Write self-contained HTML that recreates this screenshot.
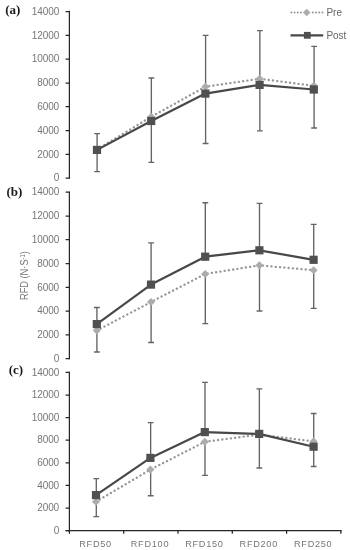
<!DOCTYPE html><html><head><meta charset="utf-8"><title>RFD chart</title>
<style>html,body{margin:0;padding:0;background:#fff}svg{display:block}.t{font-family:"Liberation Sans",sans-serif;font-size:10px;fill:#767676;letter-spacing:-.1px}.c{font-family:"Liberation Sans",sans-serif;font-size:9.2px;fill:#767676;letter-spacing:.7px}.l{font-family:"Liberation Sans",sans-serif;font-size:10px;fill:#666}.p{font-family:"Liberation Serif",serif;font-weight:bold;font-size:13px;letter-spacing:-.1px;fill:#1a1a1a}</style></head><body>
<svg width="350" height="550" viewBox="0 0 350 550">
<rect width="350" height="550" fill="#fff"/>
<g stroke="#262626" stroke-width="1.25" fill="none">
<path d="M69.4 10.9V178.8"/>
<path d="M65.6 178.1H69.4M65.6 154.3H69.4M65.6 130.5H69.4M65.6 106.7H69.4M65.6 83.0H69.4M65.6 59.2H69.4M65.6 35.4H69.4M65.6 11.6H69.4"/>
</g>
<text class="t" x="59.1" y="181.3" text-anchor="end">0</text>
<text class="t" x="59.1" y="157.6" text-anchor="end">2000</text>
<text class="t" x="59.1" y="133.8" text-anchor="end">4000</text>
<text class="t" x="59.1" y="110.0" text-anchor="end">6000</text>
<text class="t" x="59.1" y="86.2" text-anchor="end">8000</text>
<text class="t" x="59.1" y="62.4" text-anchor="end">10000</text>
<text class="t" x="59.1" y="38.6" text-anchor="end">12000</text>
<text class="t" x="59.1" y="14.8" text-anchor="end">14000</text>
<polyline points="97.00,149.50 151.20,116.80 205.40,86.70 259.60,78.80 313.80,85.80" fill="none" stroke="#989696" stroke-width="2.35" stroke-linecap="round" stroke-dasharray="0.1 4.2"/>
<polyline points="97.00,149.90 151.20,121.00 205.40,93.60 259.60,84.90 313.80,89.50" fill="none" stroke="#484848" stroke-width="2.2" stroke-linejoin="round"/>
<path d="M97.10 133.60V149.90M97.10 149.50V171.65M94.20 133.60h5.8M94.20 171.65h5.8M151.35 78.00V121.00M151.35 116.80V162.30M148.45 78.00h5.8M148.45 162.30h5.8M205.60 35.30V93.60M205.60 86.70V143.50M202.70 35.30h5.8M202.70 143.50h5.8M259.85 30.60V84.90M259.85 78.80V130.80M256.95 30.60h5.8M256.95 130.80h5.8M314.10 46.40V89.50M314.10 85.80V128.00M311.20 46.40h5.8M311.20 128.00h5.8" fill="none" stroke="#646464" stroke-width="1.35"/>
<path d="M97.00 145.45l4.05 4.05l-4.05 4.05l-4.05 -4.05z" fill="#aeabab"/>
<path d="M151.20 112.75l4.05 4.05l-4.05 4.05l-4.05 -4.05z" fill="#aeabab"/>
<path d="M205.40 82.65l4.05 4.05l-4.05 4.05l-4.05 -4.05z" fill="#aeabab"/>
<path d="M259.60 74.75l4.05 4.05l-4.05 4.05l-4.05 -4.05z" fill="#aeabab"/>
<path d="M313.80 81.75l4.05 4.05l-4.05 4.05l-4.05 -4.05z" fill="#aeabab"/>
<rect x="92.90" y="145.80" width="8.2" height="8.2" fill="#505050"/>
<rect x="147.10" y="116.90" width="8.2" height="8.2" fill="#505050"/>
<rect x="201.30" y="89.50" width="8.2" height="8.2" fill="#505050"/>
<rect x="255.50" y="80.80" width="8.2" height="8.2" fill="#505050"/>
<rect x="309.70" y="85.40" width="8.2" height="8.2" fill="#505050"/>
<text class="p" x="5.3" y="14.0">(a)</text>
<g stroke="#262626" stroke-width="1.25" fill="none">
<path d="M69.4 191.5V359.3"/>
<path d="M65.6 358.6H69.4M65.6 334.8H69.4M65.6 311.1H69.4M65.6 287.3H69.4M65.6 263.5H69.4M65.6 239.7H69.4M65.6 216.0H69.4M65.6 192.2H69.4"/>
</g>
<text class="t" x="59.1" y="361.9" text-anchor="end">0</text>
<text class="t" x="59.1" y="338.1" text-anchor="end">2000</text>
<text class="t" x="59.1" y="314.3" text-anchor="end">4000</text>
<text class="t" x="59.1" y="290.5" text-anchor="end">6000</text>
<text class="t" x="59.1" y="266.8" text-anchor="end">8000</text>
<text class="t" x="59.1" y="243.0" text-anchor="end">10000</text>
<text class="t" x="59.1" y="219.2" text-anchor="end">12000</text>
<text class="t" x="59.1" y="195.4" text-anchor="end">14000</text>
<polyline points="96.80,330.50 151.00,302.00 205.20,274.00 259.40,265.35 313.60,270.20" fill="none" stroke="#989696" stroke-width="2.35" stroke-linecap="round" stroke-dasharray="0.1 4.2"/>
<polyline points="96.80,324.10 151.00,284.60 205.20,256.70 259.40,250.30 313.60,259.80" fill="none" stroke="#484848" stroke-width="2.2" stroke-linejoin="round"/>
<path d="M96.90 307.50V324.10M96.90 330.50V352.00M94.00 307.50h5.8M94.00 352.00h5.8M151.10 242.80V284.60M151.10 302.00V342.45M148.20 242.80h5.8M148.20 342.45h5.8M205.30 202.70V256.70M205.30 274.00V323.60M202.40 202.70h5.8M202.40 323.60h5.8M259.50 203.30V250.30M259.50 265.35V311.00M256.60 203.30h5.8M256.60 311.00h5.8M313.70 224.30V259.80M313.70 270.20V308.30M310.80 224.30h5.8M310.80 308.30h5.8" fill="none" stroke="#646464" stroke-width="1.35"/>
<path d="M96.80 326.45l4.05 4.05l-4.05 4.05l-4.05 -4.05z" fill="#aeabab"/>
<path d="M151.00 297.95l4.05 4.05l-4.05 4.05l-4.05 -4.05z" fill="#aeabab"/>
<path d="M205.20 269.95l4.05 4.05l-4.05 4.05l-4.05 -4.05z" fill="#aeabab"/>
<path d="M259.40 261.30l4.05 4.05l-4.05 4.05l-4.05 -4.05z" fill="#aeabab"/>
<path d="M313.60 266.15l4.05 4.05l-4.05 4.05l-4.05 -4.05z" fill="#aeabab"/>
<rect x="92.70" y="320.00" width="8.2" height="8.2" fill="#505050"/>
<rect x="146.90" y="280.50" width="8.2" height="8.2" fill="#505050"/>
<rect x="201.10" y="252.60" width="8.2" height="8.2" fill="#505050"/>
<rect x="255.30" y="246.20" width="8.2" height="8.2" fill="#505050"/>
<rect x="309.50" y="255.70" width="8.2" height="8.2" fill="#505050"/>
<text class="p" x="6.6" y="195.7">(b)</text>
<g stroke="#262626" stroke-width="1.25" fill="none">
<path d="M69.4 371.7V531.3"/>
<path d="M65.6 530.6H69.4M65.6 508.0H69.4M65.6 485.4H69.4M65.6 462.8H69.4M65.6 440.2H69.4M65.6 417.6H69.4M65.6 395.0H69.4M65.6 372.4H69.4"/>
<path d="M65.6 530.6H341.4"/>
<path d="M69.4 530.0V533.8M123.7 530.0V533.8M178.0 530.0V533.8M232.3 530.0V533.8M286.6 530.0V533.8M340.9 530.0V533.8"/>
</g>
<text class="t" x="59.1" y="533.9" text-anchor="end">0</text>
<text class="t" x="59.1" y="511.2" text-anchor="end">2000</text>
<text class="t" x="59.1" y="488.7" text-anchor="end">4000</text>
<text class="t" x="59.1" y="466.1" text-anchor="end">6000</text>
<text class="t" x="59.1" y="443.4" text-anchor="end">8000</text>
<text class="t" x="59.1" y="420.9" text-anchor="end">10000</text>
<text class="t" x="59.1" y="398.2" text-anchor="end">12000</text>
<text class="t" x="59.1" y="375.6" text-anchor="end">14000</text>
<polyline points="96.00,501.70 150.40,469.60 204.80,441.80 259.20,434.60 313.60,441.40" fill="none" stroke="#989696" stroke-width="2.35" stroke-linecap="round" stroke-dasharray="0.1 4.2"/>
<polyline points="96.00,495.10 150.40,457.90 204.80,432.10 259.20,433.90 313.60,446.70" fill="none" stroke="#484848" stroke-width="2.2" stroke-linejoin="round"/>
<path d="M96.30 478.60V495.10M96.30 501.70V516.65M93.40 478.60h5.8M93.40 516.65h5.8M150.65 422.60V457.90M150.65 469.60V495.70M147.75 422.60h5.8M147.75 495.70h5.8M205.00 382.30V432.10M205.00 441.80V475.40M202.10 382.30h5.8M202.10 475.40h5.8M259.35 388.90V433.90M259.35 434.60V468.00M256.45 388.90h5.8M256.45 468.00h5.8M313.70 413.50V446.70M313.70 441.40V466.50M310.80 413.50h5.8M310.80 466.50h5.8" fill="none" stroke="#646464" stroke-width="1.35"/>
<path d="M96.00 497.65l4.05 4.05l-4.05 4.05l-4.05 -4.05z" fill="#aeabab"/>
<path d="M150.40 465.55l4.05 4.05l-4.05 4.05l-4.05 -4.05z" fill="#aeabab"/>
<path d="M204.80 437.75l4.05 4.05l-4.05 4.05l-4.05 -4.05z" fill="#aeabab"/>
<path d="M259.20 430.55l4.05 4.05l-4.05 4.05l-4.05 -4.05z" fill="#aeabab"/>
<path d="M313.60 437.35l4.05 4.05l-4.05 4.05l-4.05 -4.05z" fill="#aeabab"/>
<rect x="91.90" y="491.00" width="8.2" height="8.2" fill="#505050"/>
<rect x="146.30" y="453.80" width="8.2" height="8.2" fill="#505050"/>
<rect x="200.70" y="428.00" width="8.2" height="8.2" fill="#505050"/>
<rect x="255.10" y="429.80" width="8.2" height="8.2" fill="#505050"/>
<rect x="309.50" y="442.60" width="8.2" height="8.2" fill="#505050"/>
<text class="p" x="8.8" y="374.0">(c)</text>
<text class="c" x="95.6" y="546.7" text-anchor="middle">RFD50</text>
<text class="c" x="150.0" y="546.7" text-anchor="middle">RFD100</text>
<text class="c" x="204.4" y="546.7" text-anchor="middle">RFD150</text>
<text class="c" x="258.8" y="546.7" text-anchor="middle">RFD200</text>
<text class="c" x="313.2" y="546.7" text-anchor="middle">RFD250</text>
<text class="t" style="font-size:10.3px;letter-spacing:0" transform="translate(27.8 275.6) rotate(-90) scale(0.9 1)" text-anchor="middle">RFD (N·S<tspan dy="-3.2" font-size="6.5">-1</tspan><tspan dy="3.2">)</tspan></text>
<path d="M291.3 12.55H303M312.7 12.55H323.2" fill="none" stroke="#989696" stroke-width="1.9" stroke-linecap="round" stroke-dasharray="0.1 3.13"/>
<path d="M306.75 8.75l3.8 3.8l-3.8 3.8l-3.8 -3.8z" fill="#aeabab"/>
<text class="l" x="326.4" y="15.8">Pre</text>
<path d="M290.5 35.3H323.2" fill="none" stroke="#484848" stroke-width="2.2"/>
<rect x="303.9" y="31.9" width="6.8" height="6.8" fill="#505050"/>
<text class="l" x="326.4" y="38.6">Post</text>
</svg></body></html>
